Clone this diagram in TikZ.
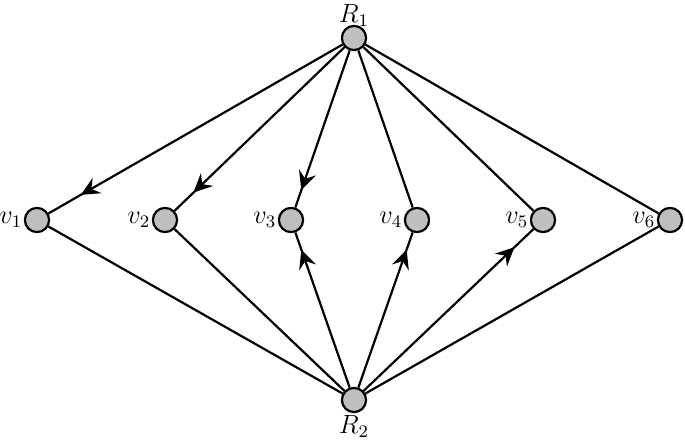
\documentclass[tikz,border=0pt]{standalone}
\usetikzlibrary{arrows.meta,decorations.markings}
\begin{document}
\begin{tikzpicture}[x=0.4545pt,y=-0.4545pt,
  every label/.style={font=\fontsize{12}{14}\selectfont,inner sep=0.5pt},
  label distance=0pt,
  vtx/.style={circle,draw=black,line width=1pt,fill=black!25,minimum size=11pt,inner sep=0pt},
  edge/.style={line width=1pt},
  midarrow/.style={edge,postaction={decorate},decoration={markings,mark=at position #1 with {\arrow{Stealth[length=8.5pt,width=8pt,inset=3pt]}}}},
  midarrow/.default=0.89]
\useasboundingbox (0,0) rectangle (685,442);
\node[vtx,label={[label distance=-1.5pt]above:$R_1$}] (R1) at (354,38) {};
\node[vtx,label={[label distance=0.5pt]below:$R_2$}] (R2) at (354,400) {};
\node[vtx,label=left:$v_1$] (v1) at (37,220) {};
\node[vtx,label=left:$v_2$] (v2) at (165,220) {};
\node[vtx,label=left:$v_3$] (v3) at (291,220) {};
\node[vtx,label=left:$v_4$] (v4) at (417,220) {};
\node[vtx,label=left:$v_5$] (v5) at (543,220) {};
\node[vtx,label=left:$v_6$] (v6) at (670,220) {};
\draw[midarrow] (R1) -- (v1);
\draw[midarrow] (R1) -- (v2);
\draw[midarrow] (R1) -- (v3);
\draw[edge] (R1) -- (v4);
\draw[edge] (R1) -- (v5);
\draw[edge] (R1) -- (v6);
\draw[edge] (R2) -- (v1);
\draw[edge] (R2) -- (v2);
\draw[midarrow] (R2) -- (v3);
\draw[midarrow] (R2) -- (v4);
\draw[midarrow] (R2) -- (v5);
\draw[edge] (R2) -- (v6);
\end{tikzpicture}
\end{document}
